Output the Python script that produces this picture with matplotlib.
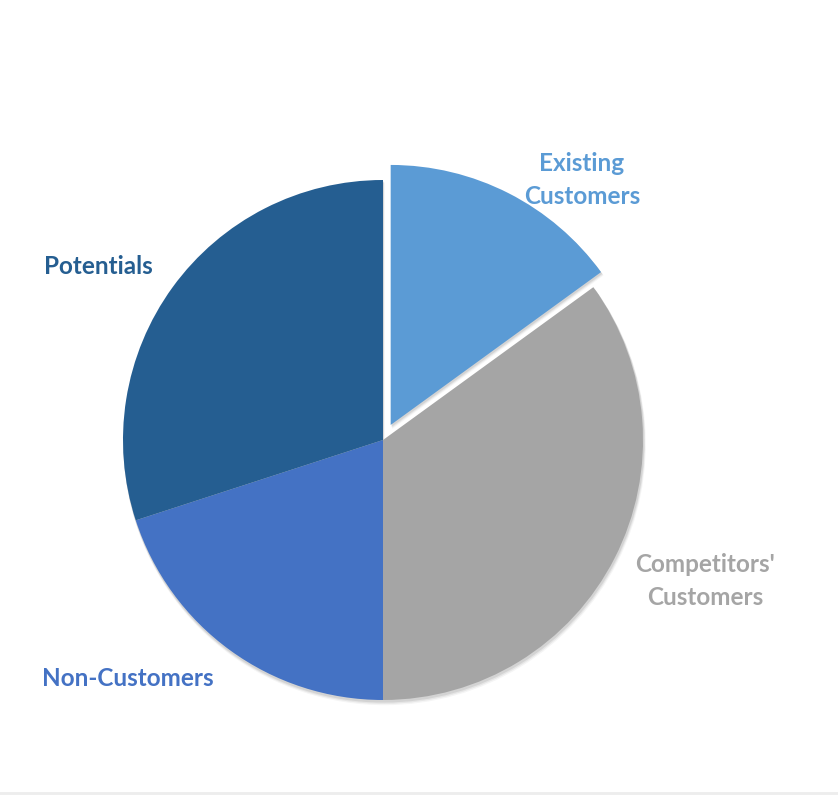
import matplotlib
matplotlib.use("Agg")
import matplotlib.pyplot as plt
from matplotlib.patches import Wedge

labels = ["Existing\nCustomers", "Competitors'\nCustomers", "Non-Customers", "Potentials"]
shares = [15, 35, 20, 30]
colors = ["#5B9BD5", "#A5A5A5", "#4472C4", "#255E91"]
explode = [0.065, 0, 0, 0]

W, H = 838, 795
cx, cy, R = 383, 440, 260

fig = plt.figure(figsize=(W / 100, H / 100), dpi=100)
ax = fig.add_axes([0, 0, 1, 1])

wedges, _ = ax.pie(shares, colors=colors, explode=explode, startangle=90,
                   counterclock=False, radius=1, center=(0, 0), frame=True,
                   wedgeprops=dict(linewidth=0))

# soft shadow under the pie
for w in wedges:
    w.set_zorder(3)
for off, a in [(4, 0.04), (3, 0.06), (2, 0.08)]:
    for w in wedges:
        ax.add_patch(Wedge((w.center[0] + off * 0.4 / R, w.center[1] - off / R),
                           w.r + off * 0.3 / R, w.theta1, w.theta2,
                           color="black", alpha=a, lw=0, zorder=1))

ax.set_xlim(-cx / R, (W - cx) / R)
ax.set_ylim(-(H - cy) / R, cy / R)
ax.set_aspect("equal")
ax.axis("off")

# label positions (pixels in the reference)
label_px = [(582, 180), (705, 581), (128, 678), (98, 267)]
for lab, (px, py), col in zip(labels, label_px, colors):
    ax.text((px - cx) / R, (cy - py) / R, lab, color=col, ha="center", va="center",
            fontsize=17.5, fontweight="bold", family=["Lato", "DejaVu Sans"],
            linespacing=1.5, zorder=5)

# thin border line at the bottom
fig.add_artist(plt.Line2D([0, 1], [2 / H, 2 / H], color="#EDEDED", lw=2, transform=fig.transFigure))

fig.savefig("out.png", dpi=100)
